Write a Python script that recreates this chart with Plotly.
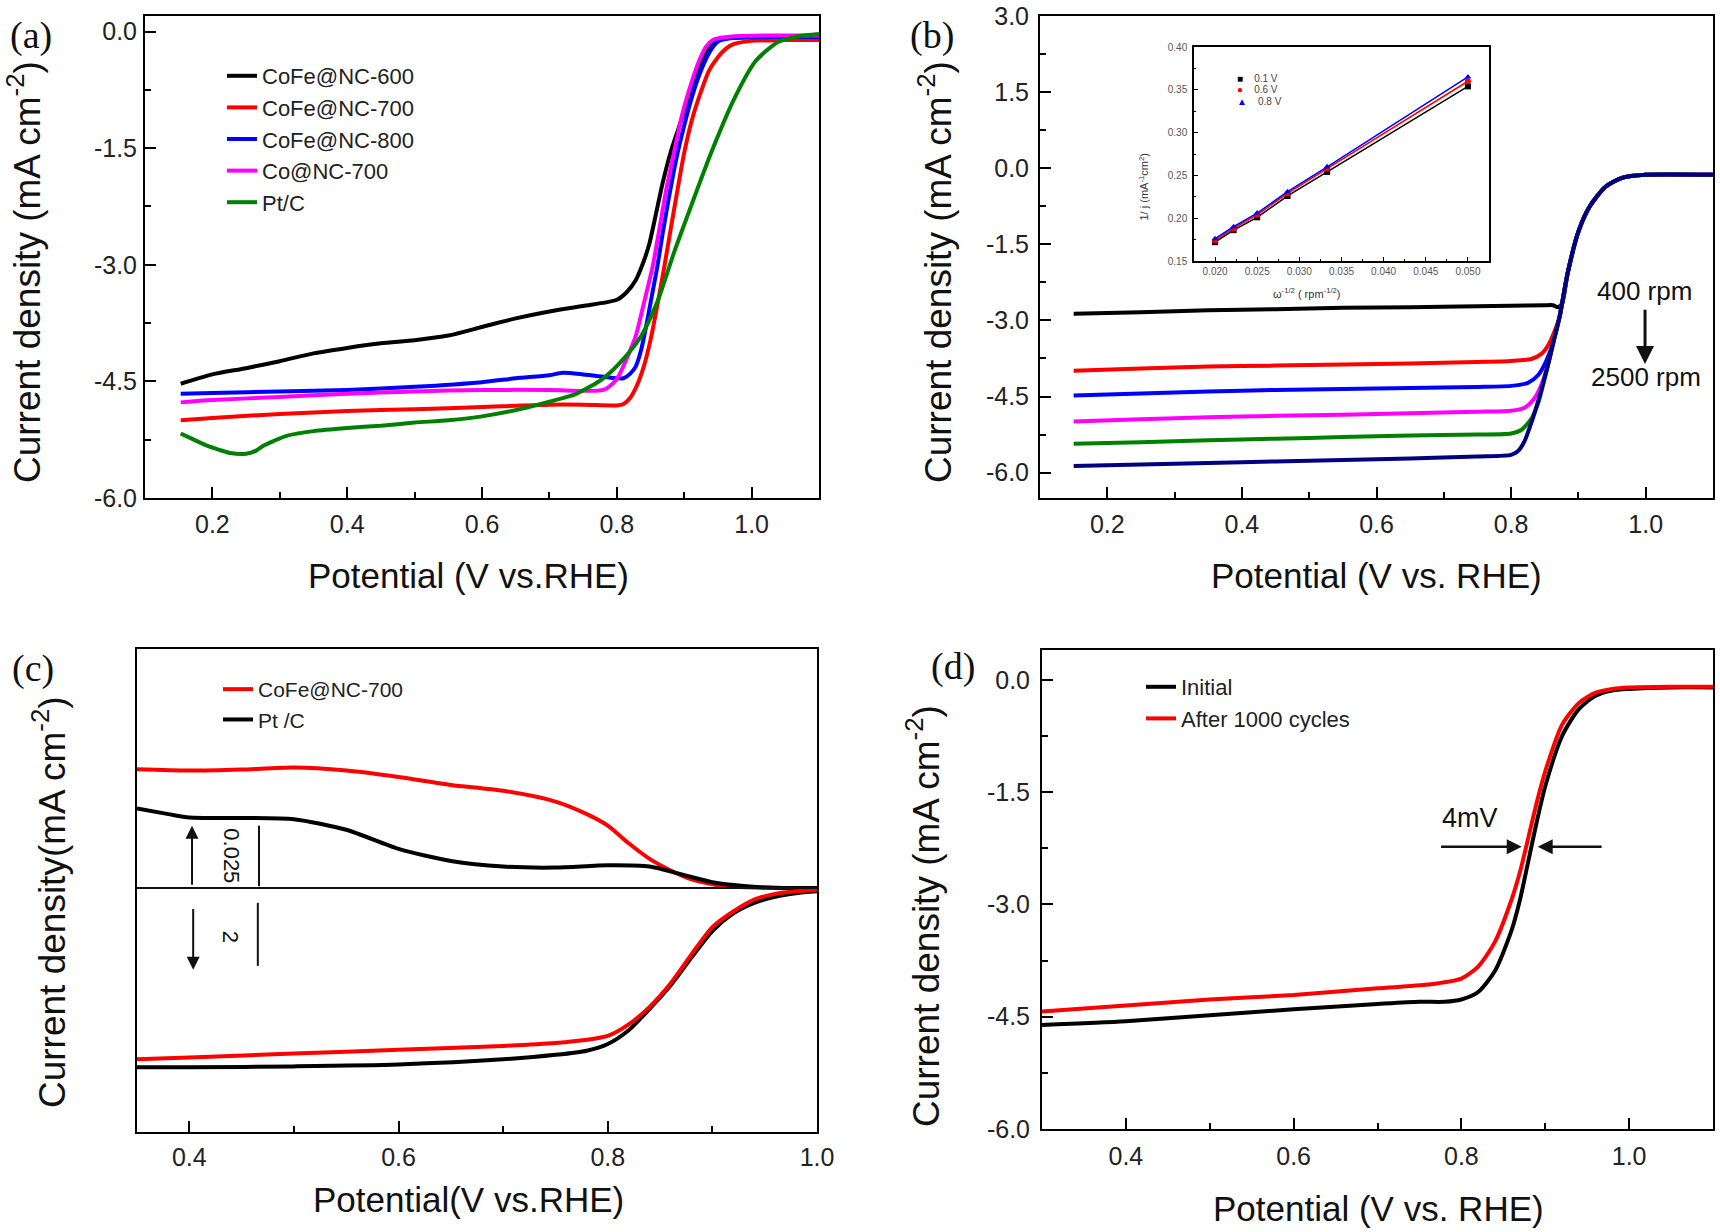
import plotly.graph_objects as go

W, H = 1720, 1232
FONT = "Liberation Sans, Arial, Helvetica, sans-serif"
SERIF = "Liberation Serif, Times New Roman, serif"

# ---------------- (a) LSV of catalysts, 1600 rpm ----------------
a_names = ["CoFe@NC-600", "CoFe@NC-700", "CoFe@NC-800", "Co@NC-700", "Pt/C"]
a_colors = ["#000000", "#ff0000", "#0000ff", "#ff00ff", "#008000"]

a_x_600 = [0.153, 0.20, 0.25, 0.30, 0.35, 0.40, 0.45, 0.50, 0.55, 0.60, 0.65, 0.70, 0.75, 0.80,
           0.815, 0.828, 0.838, 0.848, 0.858, 0.868, 0.880, 0.893, 0.905, 0.917, 0.93, 0.94,
           0.955, 0.974, 1.00, 1.05, 1.10]
a_y_600 = [-4.53, -4.41, -4.33, -4.24, -4.14, -4.07, -4.01, -3.97, -3.91, -3.80, -3.69, -3.60,
           -3.53, -3.45, -3.35, -3.20, -3.00, -2.74, -2.35, -1.95, -1.55, -1.21, -0.88, -0.58,
           -0.32, -0.18, -0.10, -0.08, -0.07, -0.07, -0.07]

a_x_700 = [0.153, 0.20, 0.30, 0.40, 0.50, 0.60, 0.70, 0.75, 0.80, 0.81, 0.82, 0.83, 0.84, 0.85,
           0.86, 0.87, 0.88, 0.89, 0.90, 0.912, 0.925, 0.937, 0.95, 0.962, 0.974, 1.00, 1.05, 1.10]
a_y_700 = [-5.00, -4.97, -4.92, -4.88, -4.86, -4.83, -4.80, -4.80, -4.81, -4.79, -4.71, -4.55,
           -4.31, -3.97, -3.53, -3.05, -2.54, -2.04, -1.56, -1.12, -0.77, -0.50, -0.33, -0.22,
           -0.16, -0.12, -0.11, -0.11]

a_x_800 = [0.153, 0.20, 0.30, 0.40, 0.50, 0.60, 0.65, 0.70, 0.72, 0.75, 0.78, 0.80, 0.81, 0.82,
           0.828, 0.836, 0.844, 0.852, 0.86, 0.868, 0.877, 0.888, 0.90, 0.913, 0.926, 0.938,
           0.95, 0.965, 0.983, 1.03, 1.10]
a_y_800 = [-4.66, -4.65, -4.63, -4.61, -4.57, -4.51, -4.46, -4.42, -4.39, -4.41, -4.44, -4.46,
           -4.46, -4.40, -4.31, -4.10, -3.77, -3.40, -3.03, -2.60, -2.15, -1.65, -1.21, -0.80,
           -0.48, -0.26, -0.13, -0.09, -0.08, -0.07, -0.07]

a_x_co = [0.153, 0.20, 0.30, 0.40, 0.50, 0.60, 0.70, 0.78, 0.795, 0.804, 0.815, 0.828, 0.840,
          0.853, 0.863, 0.873, 0.885, 0.897, 0.91, 0.922, 0.932, 0.942, 0.955, 0.975, 1.03, 1.10]
a_y_co = [-4.77, -4.74, -4.70, -4.66, -4.63, -4.61, -4.61, -4.61, -4.52, -4.41, -4.20, -3.92,
          -3.50, -3.03, -2.55, -2.05, -1.55, -1.07, -0.68, -0.38, -0.20, -0.11, -0.08, -0.06,
          -0.05, -0.05]

a_x_pt = [0.153, 0.17, 0.19, 0.21, 0.226, 0.25, 0.265, 0.275, 0.29, 0.31, 0.35, 0.40, 0.45, 0.50,
          0.55, 0.60, 0.66, 0.70, 0.74, 0.78, 0.81, 0.836, 0.86, 0.885, 0.91, 0.94, 0.974, 1.006,
          1.04, 1.07, 1.10]
a_y_pt = [-5.17, -5.24, -5.32, -5.38, -5.42, -5.43, -5.39, -5.33, -5.27, -5.20, -5.14, -5.10,
          -5.07, -5.03, -5.00, -4.95, -4.85, -4.76, -4.66, -4.46, -4.21, -3.92, -3.48, -2.84,
          -2.25, -1.56, -0.87, -0.38, -0.13, -0.06, -0.03]

a_series = [(a_x_600, a_y_600), (a_x_700, a_y_700), (a_x_800, a_y_800), (a_x_co, a_y_co), (a_x_pt, a_y_pt)]

# ---------------- (b) rotation speeds ----------------
b_rpm = ["400 rpm", "900 rpm", "1225 rpm", "1600 rpm", "2025 rpm", "2500 rpm"]
b_colors = ["#000000", "#ff0000", "#0000ff", "#ff00ff", "#008000", "#000080"]
b_x_plateau = [0.15, 0.25, 0.35, 0.45, 0.55, 0.65, 0.75, 0.80]
b_x_tail = [0.884, 0.90, 0.917, 0.94, 0.965, 1.00, 1.10]
b_y_tail = [-2.07, -1.25, -0.75, -0.37, -0.19, -0.13, -0.13]

b_x_400 = b_x_plateau + [0.85, 0.862, 0.870, 0.876]
b_y_400 = [-2.87, -2.84, -2.80, -2.78, -2.75, -2.74, -2.72, -2.71, -2.70, -2.70, -2.74, -2.66]
b_x_900 = b_x_plateau + [0.83, 0.845, 0.856, 0.865, 0.872]
b_y_900 = [-3.99, -3.95, -3.91, -3.89, -3.87, -3.85, -3.82, -3.80, -3.76, -3.66, -3.47, -3.20, -2.93]
b_x_1225 = b_x_plateau + [0.825, 0.84, 0.85, 0.862, 0.872]
b_y_1225 = [-4.48, -4.44, -4.40, -4.37, -4.35, -4.33, -4.31, -4.29, -4.23, -4.08, -3.86, -3.45, -2.93]
b_x_1600 = b_x_plateau + [0.82, 0.835, 0.845, 0.855, 0.863, 0.872]
b_y_1600 = [-4.99, -4.95, -4.91, -4.88, -4.86, -4.83, -4.80, -4.78, -4.72, -4.53, -4.27, -3.86, -3.42, -2.93]
b_x_2025 = b_x_plateau + [0.815, 0.83, 0.84, 0.848, 0.855, 0.863, 0.872]
b_y_2025 = [-5.43, -5.40, -5.36, -5.33, -5.30, -5.27, -5.25, -5.23, -5.16, -4.94, -4.64, -4.25, -3.88, -3.42, -2.93]
b_x_2500 = b_x_plateau + [0.81, 0.82, 0.83, 0.84, 0.848, 0.855, 0.863, 0.872]
b_y_2500 = [-5.87, -5.84, -5.81, -5.78, -5.75, -5.72, -5.68, -5.65, -5.58, -5.38, -5.02, -4.60, -4.22, -3.86, -3.42, -2.93]

b_series = [(b_x_400, b_y_400), (b_x_900, b_y_900), (b_x_1225, b_y_1225),
            (b_x_1600, b_y_1600), (b_x_2025, b_y_2025), (b_x_2500, b_y_2500)]

# inset: Koutecky-Levich plot
k_x = [0.020, 0.0222, 0.025, 0.0286, 0.0333, 0.050]
k_names = ["0.1 V", "0.6 V", "0.8 V"]
k_colors = ["#000000", "#ff0000", "#0000ff"]
k_symbols = ["square", "circle", "triangle-up"]
k_glyphs = ["\u25a0", "\u25cf", "\u25b2"]
k_y_01 = [0.172, 0.186, 0.201, 0.226, 0.254, 0.354]
k_y_06 = [0.174, 0.188, 0.204, 0.229, 0.258, 0.360]
k_y_08 = [0.176, 0.190, 0.206, 0.231, 0.260, 0.365]
k_series = [k_y_01, k_y_06, k_y_08]

# ---------------- (c) RRDE ----------------
RING_SCALE = 2 / 0.025  # scale bars: 0.025 (ring, mA) <-> 2 (disk, mA cm-2)
c_x_disk = [0.35, 0.40, 0.50, 0.60, 0.70, 0.75, 0.78, 0.80, 0.82, 0.84, 0.86, 0.88, 0.90, 0.92,
            0.94, 0.96, 0.98, 1.00]
c_disk_cofe = [-5.35, -5.29, -5.17, -5.05, -4.93, -4.84, -4.74, -4.62, -4.26, -3.71, -2.98, -2.07,
               -1.22, -0.73, -0.36, -0.18, -0.10, -0.06]
c_disk_pt = [-5.60, -5.60, -5.57, -5.51, -5.35, -5.21, -5.08, -4.87, -4.44, -3.77, -3.04, -2.17,
             -1.34, -0.79, -0.46, -0.27, -0.16, -0.10]
c_x_ring_cofe = [0.35, 0.40, 0.45, 0.50, 0.55, 0.60, 0.65, 0.70, 0.75, 0.78, 0.80, 0.82, 0.84,
                 0.86, 0.88, 0.90, 0.92, 0.95, 1.00]
c_ring_cofe = [0.0464, 0.0459, 0.0463, 0.0471, 0.0459, 0.0434, 0.0403, 0.0380, 0.0338, 0.0289,
               0.0244, 0.0175, 0.0114, 0.0069, 0.0034, 0.0015, 0.0006, 0.0001, 0.0]
c_x_ring_pt = [0.35, 0.38, 0.40, 0.45, 0.50, 0.55, 0.60, 0.65, 0.70, 0.75, 0.80, 0.84, 0.87,
               0.90, 0.93, 0.96, 1.00]
c_ring_pt = [0.0311, 0.0289, 0.0276, 0.0274, 0.0269, 0.0228, 0.0153, 0.0106, 0.0084, 0.0080,
             0.0089, 0.0084, 0.0054, 0.0023, 0.0008, 0.0001, 0.0]

# ---------------- (d) stability ----------------
d_x_init = [0.30, 0.40, 0.50, 0.60, 0.70, 0.75, 0.78, 0.80, 0.82, 0.84, 0.86, 0.87, 0.88, 0.89,
            0.90, 0.92, 0.94, 0.96, 0.98, 1.00, 1.05, 1.10]
d_y_init = [-4.61, -4.56, -4.48, -4.40, -4.33, -4.30, -4.30, -4.27, -4.17, -3.89, -3.34, -2.93,
            -2.41, -1.89, -1.42, -0.75, -0.39, -0.21, -0.14, -0.12, -0.10, -0.10]
d_x_after = [0.30, 0.40, 0.50, 0.60, 0.70, 0.76, 0.80, 0.82, 0.84, 0.86, 0.87, 0.88, 0.89, 0.90,
             0.92, 0.94, 0.96, 0.98, 1.00, 1.05, 1.10]
d_y_after = [-4.43, -4.35, -4.27, -4.21, -4.12, -4.07, -3.99, -3.83, -3.50, -2.93, -2.56, -2.10,
             -1.63, -1.22, -0.60, -0.31, -0.17, -0.12, -0.10, -0.09, -0.09]

# tick labels
j_ticks = [0.0, -1.5, -3.0, -4.5, -6.0]
j_ticktext = ["0.0", "-1.5", "-3.0", "-4.5", "-6.0"]
jb_ticks = [3.0, 1.5, 0.0, -1.5, -3.0, -4.5, -6.0]
jb_ticktext = ["3.0", "1.5", "0.0", "-1.5", "-3.0", "-4.5", "-6.0"]
e_ticks = [0.2, 0.4, 0.6, 0.8, 1.0]
e_ticktext = ["0.2", "0.4", "0.6", "0.8", "1.0"]
e_ticks_c = [0.4, 0.6, 0.8, 1.0]
e_ticktext_c = ["0.4", "0.6", "0.8", "1.0"]
k_xticks = [0.020, 0.025, 0.030, 0.035, 0.040, 0.045, 0.050]
k_xticktext = ["0.020", "0.025", "0.030", "0.035", "0.040", "0.045", "0.050"]
k_yticks = [0.15, 0.20, 0.25, 0.30, 0.35, 0.40]
k_yticktext = ["0.15", "0.20", "0.25", "0.30", "0.35", "0.40"]


def fx(p):
    return p / W


def fy(p):
    return 1 - p / H


def axis(domain, rng, anchor, tickvals=None, ticktext=None, minor_dtick=None, size=25,
         standoff=10, lw=2, tlen=11, mlen=6, tw=2, color="#222"):
    d = dict(domain=domain, range=rng, anchor=anchor, showline=True, linecolor="black",
             linewidth=lw, mirror=True, showgrid=False, zeroline=False, fixedrange=True,
             automargin=False)
    if tickvals is None:
        d.update(showticklabels=False, ticks="")
    else:
        d.update(ticks="inside", ticklen=tlen, tickwidth=tw, tickcolor="black", tickmode="array",
                 tickvals=tickvals, ticktext=ticktext,
                 tickfont=dict(family=FONT, size=size, color=color),
                 ticklabelstandoff=standoff,
                 minor=dict(ticks="inside", ticklen=mlen, tickwidth=tw, tickcolor="black",
                            tickmode="linear", tick0=0, dtick=minor_dtick))
    return d


fig = go.Figure()
LW = 4
SM = 0.7

for (xs, ys), nm, col in zip(a_series, a_names, a_colors):
    fig.add_trace(go.Scatter(x=xs, y=ys, mode="lines", name=nm, xaxis="x", yaxis="y",
                             line=dict(color=col, width=LW, shape="spline", smoothing=SM),
                             legend="legend"))

for (xs, ys), nm, col in zip(b_series, b_rpm, b_colors):
    xx = xs + b_x_tail
    yy = ys + b_y_tail
    fig.add_trace(go.Scatter(x=xx, y=yy, mode="lines", name=nm, xaxis="x2", yaxis="y2",
                             showlegend=False,
                             line=dict(color=col, width=LW, shape="spline", smoothing=SM)))

for ys, nm, col, sym in zip(k_series, k_names, k_colors, k_symbols):
    fig.add_trace(go.Scatter(x=k_x, y=ys, mode="lines+markers", name=nm, xaxis="x5", yaxis="y5",
                             showlegend=False, line=dict(color=col, width=1.5),
                             marker=dict(color=col, symbol=sym, size=6)))

fig.add_trace(go.Scatter(x=c_x_ring_cofe, y=[v * RING_SCALE for v in c_ring_cofe], mode="lines",
                         name="CoFe@NC-700", xaxis="x3", yaxis="y3", legend="legend2",
                         line=dict(color="#ff0000", width=LW, shape="spline", smoothing=SM)))
fig.add_trace(go.Scatter(x=c_x_ring_pt, y=[v * RING_SCALE for v in c_ring_pt], mode="lines",
                         name="Pt /C", xaxis="x3", yaxis="y3", legend="legend2",
                         line=dict(color="#000000", width=LW, shape="spline", smoothing=SM)))
fig.add_trace(go.Scatter(x=c_x_disk, y=c_disk_pt, mode="lines", showlegend=False,
                         xaxis="x3", yaxis="y3",
                         line=dict(color="#000000", width=LW, shape="spline", smoothing=SM)))
fig.add_trace(go.Scatter(x=c_x_disk, y=c_disk_cofe, mode="lines", showlegend=False,
                         xaxis="x3", yaxis="y3",
                         line=dict(color="#ff0000", width=LW, shape="spline", smoothing=SM)))

fig.add_trace(go.Scatter(x=d_x_init, y=d_y_init, mode="lines", name="Initial", xaxis="x4",
                         yaxis="y4", legend="legend3",
                         line=dict(color="#000000", width=LW, shape="spline", smoothing=SM)))
fig.add_trace(go.Scatter(x=d_x_after, y=d_y_after, mode="lines", name="After 1000 cycles",
                         xaxis="x4", yaxis="y4", legend="legend3",
                         line=dict(color="#ff0000", width=LW, shape="spline", smoothing=SM)))

# panel boxes (pixel positions on the 1720x1232 page)
A = dict(x=[fx(145), fx(819)], y=[fy(498), fy(16)])
B = dict(x=[fx(1040), fx(1713)], y=[fy(498), fy(16)])
C = dict(x=[fx(137), fx(817)], y=[fy(1132), fy(649)])
D = dict(x=[fx(1042), fx(1713)], y=[fy(1129), fy(650)])
I = dict(x=[fx(1194), fx(1489)], y=[fy(261), fy(47)])

layout = dict(
    width=W, height=H, margin=dict(l=0, r=0, t=0, b=0, pad=0, autoexpand=False),
    paper_bgcolor="white", plot_bgcolor="rgba(0,0,0,0)",
    font=dict(family=FONT, color="#111"),
    xaxis=axis(A["x"], [0.1, 1.1], "y", e_ticks, e_ticktext, 0.1, standoff=3),
    yaxis=axis(A["y"], [-6.0, 0.2], "x", j_ticks, j_ticktext, 0.75, standoff=1),
    xaxis2=axis(B["x"], [0.1, 1.1], "y2", e_ticks, e_ticktext, 0.1, standoff=3),
    yaxis2=axis(B["y"], [-6.5, 3.0], "x2", jb_ticks, jb_ticktext, 0.75, standoff=4),
    xaxis3=axis(C["x"], [0.35, 1.0], "y3", e_ticks_c, e_ticktext_c, 0.1, standoff=2),
    yaxis3=axis(C["y"], [-7.62, 7.47], "x3"),
    xaxis4=axis(D["x"], [0.3, 1.1], "y4", e_ticks_c, e_ticktext_c, 0.1, standoff=4),
    yaxis4=axis(D["y"], [-6.0, 0.4], "x4", j_ticks, j_ticktext, 0.75, standoff=5),
    xaxis5=axis(I["x"], [0.0175, 0.0525], "y5", k_xticks, k_xticktext, 0.0025, size=10,
                standoff=0, lw=1.5, tlen=4, mlen=2, tw=1, color="#555"),
    yaxis5=axis(I["y"], [0.15, 0.40], "x5", k_yticks, k_yticktext, 0.025, size=10,
                standoff=3, lw=1.5, tlen=4, mlen=2, tw=1, color="#555"),
    legend=dict(x=fx(222), y=fy(55), xanchor="left", yanchor="top", bgcolor="rgba(0,0,0,0)",
                font=dict(family=FONT, size=22, color="#222"), tracegroupgap=0),
    legend2=dict(x=fx(218), y=fy(669), xanchor="left", yanchor="top", bgcolor="rgba(0,0,0,0)",
                 font=dict(family=FONT, size=21, color="#222")),
    legend3=dict(x=fx(1141), y=fy(666), xanchor="left", yanchor="top", bgcolor="rgba(0,0,0,0)",
                 font=dict(family=FONT, size=22, color="#222")),
)
fig.update_layout(**layout)

ann = []
TITLE = dict(family=FONT, size=35, color="#111")
YTITLE = dict(family=FONT, size=37, color="#111")
# panel labels
for lab, x, y in [("(a)", 31, 35), ("(b)", 932, 35), ("(c)", 33, 668), ("(d)", 953, 666)]:
    ann.append(dict(text=lab, x=fx(x), y=fy(y), xref="paper", yref="paper", showarrow=False,
                    xanchor="center", yanchor="middle",
                    font=dict(family=SERIF, size=38, color="#111")))
# y titles
for txt, x, y in [("Current density (mA cm<sup>-2</sup>)", 25, 272),
                  ("Current density (mA cm<sup>-2</sup>)", 936, 272),
                  ("Current density(mA cm<sup>-2</sup>)", 50, 902),
                  ("Current density (mA cm<sup>-2</sup>)", 923, 916)]:
    ann.append(dict(text=txt, x=fx(x), y=fy(y), xref="paper", yref="paper", showarrow=False,
                    textangle=-90, xanchor="center", yanchor="middle", font=YTITLE))
# x titles
for txt, x, y in [("Potential (V vs.RHE)", 468, 575), ("Potential (V vs. RHE)", 1376, 575),
                  ("Potential(V vs.RHE)", 468, 1199), ("Potential (V vs. RHE)", 1378, 1208)]:
    ann.append(dict(text=txt, x=fx(x), y=fy(y), xref="paper", yref="paper", showarrow=False,
                    xanchor="center", yanchor="middle", font=TITLE))
# inset titles
ann.append(dict(text="1/ j (mA<sup>-1</sup>cm<sup>2</sup>)", x=fx(1153), y=fy(152), xref="paper",
                yref="paper", showarrow=False, textangle=-90,
                font=dict(family=FONT, size=11, color="#333")))
ann.append(dict(text="\u03c9<sup>-1/2</sup> ( rpm<sup>-1/2</sup>)", x=fx(1343), y=fy(284),
                xref="paper", yref="paper", showarrow=False,
                font=dict(family=FONT, size=11, color="#333")))
# inset legend (text with coloured symbol glyphs)
for i, (nm, col, gl) in enumerate(zip(k_names, k_colors, k_glyphs)):
    ann.append(dict(text="<span style='color:%s'>%s</span>    %s" % (col, gl, nm),
                    x=fx(1235), y=fy(78 + 12 * i), xref="paper", yref="paper", showarrow=False,
                    xanchor="left", yanchor="middle",
                    font=dict(family=FONT, size=10, color="#444")))
# (b) rpm arrow
ann.append(dict(text="400 rpm", x=0.998, y=-2.42, xref="x2", yref="y2", showarrow=False,
                font=dict(family=FONT, size=26, color="#111")))
ann.append(dict(text="2500 rpm", x=1.0, y=-4.12, xref="x2", yref="y2", showarrow=False,
                font=dict(family=FONT, size=26, color="#111")))
ann.append(dict(text="", x=0.999, y=-3.86, ax=0.999, ay=-2.76, xref="x2", yref="y2",
                axref="x2", ayref="y2", showarrow=True, arrowhead=2, arrowsize=1.2,
                arrowwidth=3, arrowcolor="#111"))
# (c) scale bars
ann.append(dict(text="", x=0.4026, y=1.95, ax=0.4026, ay=0.06, xref="x3", yref="y3",
                axref="x3", ayref="y3", showarrow=True, arrowhead=2, arrowsize=1.3,
                arrowwidth=2, arrowcolor="#111"))
ann.append(dict(text="", x=0.4037, y=-2.55, ax=0.4037, ay=-0.61, xref="x3", yref="y3",
                axref="x3", ayref="y3", showarrow=True, arrowhead=2, arrowsize=1.3,
                arrowwidth=2, arrowcolor="#111"))
ann.append(dict(text="0.025", x=0.440, y=1.02, xref="x3", yref="y3", showarrow=False,
                textangle=90, font=dict(family=FONT, size=22, color="#111")))
ann.append(dict(text="2", x=0.439, y=-1.52, xref="x3", yref="y3", showarrow=False,
                textangle=90, font=dict(family=FONT, size=22, color="#111")))
# (d) 4 mV arrows
ann.append(dict(text="4mV", x=0.81, y=-1.84, xref="x4", yref="y4", showarrow=False,
                font=dict(family=FONT, size=27, color="#111")))
ann.append(dict(text="", x=0.872, y=-2.23, ax=0.774, ay=-2.23, xref="x4", yref="y4",
                axref="x4", ayref="y4", showarrow=True, arrowhead=2, arrowsize=1.2,
                arrowwidth=2.5, arrowcolor="#111"))
ann.append(dict(text="", x=0.891, y=-2.23, ax=0.969, ay=-2.23, xref="x4", yref="y4",
                axref="x4", ayref="y4", showarrow=True, arrowhead=2, arrowsize=1.2,
                arrowwidth=2.5, arrowcolor="#111"))

shapes = [
    dict(type="line", xref="x3", yref="y3", x0=0.4666, x1=0.4666, y0=0.06, y1=1.95,
         line=dict(color="#111", width=2)),
    dict(type="line", xref="x3", yref="y3", x0=0.4655, x1=0.4655, y0=-0.46, y1=-2.43,
         line=dict(color="#111", width=2)),
    dict(type="line", xref="x3", yref="y3", x0=0.35, x1=1.0, y0=0, y1=0,
         line=dict(color="#111", width=2)),
]
fig.update_layout(annotations=ann, shapes=shapes)

fig.write_html("out.html")
